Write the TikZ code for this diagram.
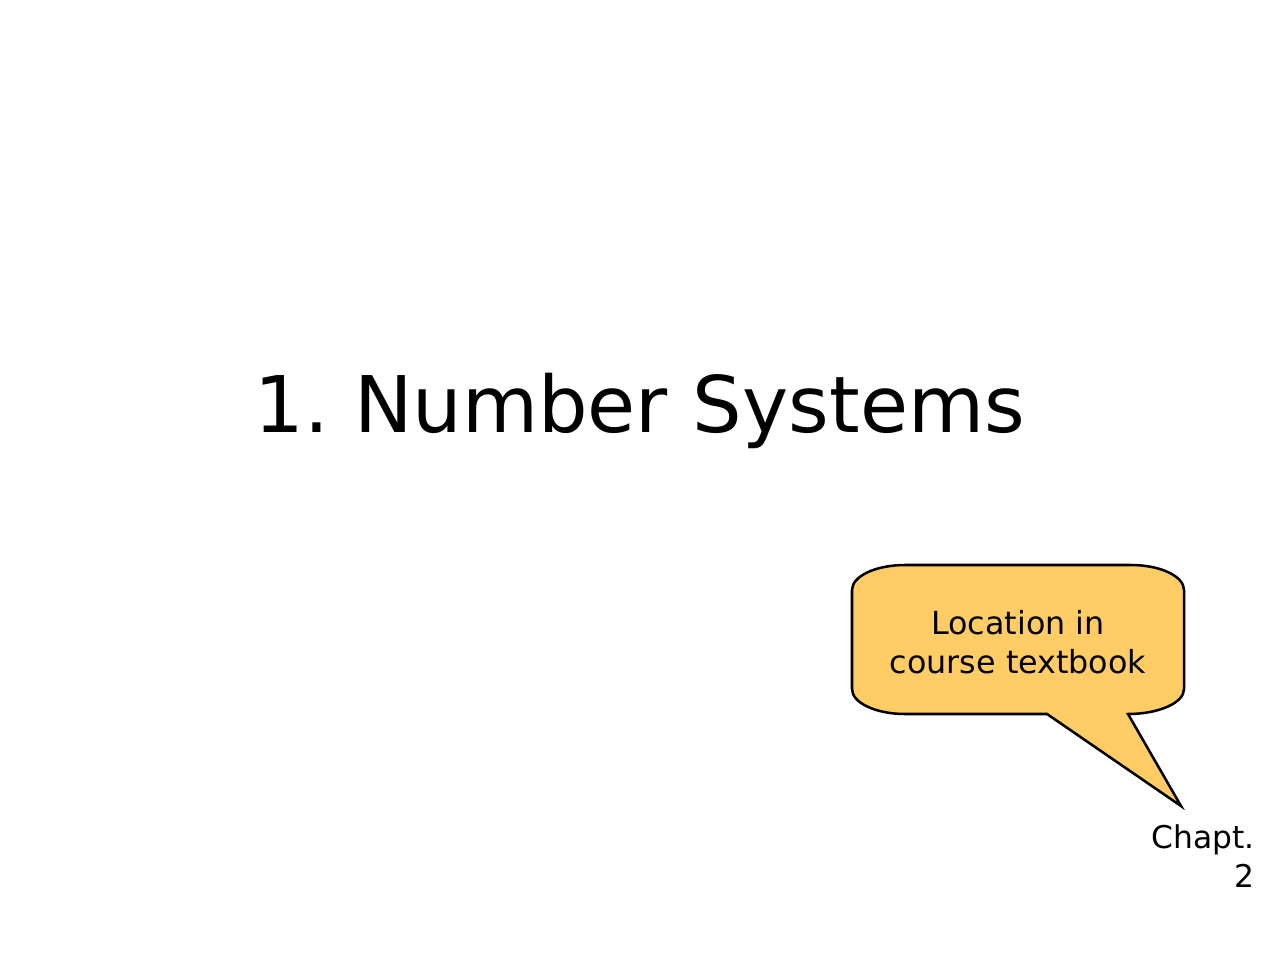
\documentclass[tikz,border=0pt]{standalone}
\usepackage{fontspec}
\setmainfont{DejaVu Sans}
\frenchspacing
\definecolor{calloutfill}{RGB}{255,204,102}
\begin{document}
\begin{tikzpicture}[x=0.75pt,y=-0.75pt,
  titletext/.style={font=\fontsize{58.6pt}{70pt}\selectfont, inner sep=0pt, anchor=base},
  bubbletext/.style={font=\fontsize{23.8pt}{29.25pt}\selectfont, inner sep=0pt, align=center, anchor=center},
  chaptext/.style={font=\fontsize{23.5pt}{29.25pt}\selectfont, inner sep=0pt, align=right, anchor=north east},
  bubble/.style={draw=black, fill=calloutfill, line width=1.9pt, line join=miter, miter limit=20}]
\useasboundingbox (0,0) rectangle (1280,960);
\fill[white] (0,0) rectangle (1280,960);
\node[titletext] (title) at (640,432) {1. Number Systems};
\draw[bubble] (852,590) -- (852,689) .. controls (852,702.8) and (875.7,714) .. (905,714)
  -- (1047,714) -- (1181,806) -- (1128,714)
  .. controls (1158.8,714) and (1184,702.8) .. (1184,689)
  -- (1184,590) .. controls (1184,576.2) and (1160.3,565) .. (1131,565)
  -- (905,565) .. controls (875.7,565) and (852,576.2) .. (852,590) -- cycle;
\node[bubbletext] (loc) at (1018,642) {Location in\\course textbook};
\node[chaptext] (chap) at (1255,824) {Chapt.\\2};
\end{tikzpicture}
\end{document}
